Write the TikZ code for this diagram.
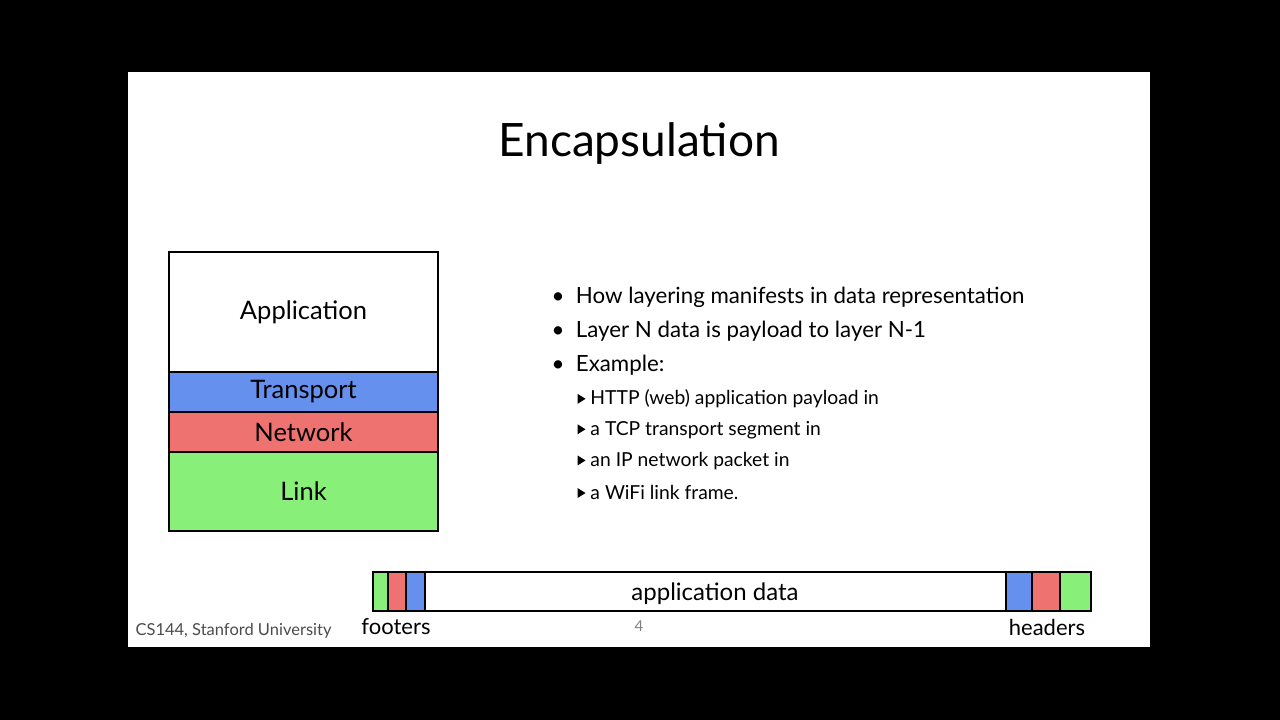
\documentclass[tikz,border=0pt]{standalone}
\usepackage{fontspec}
\setmainfont{Lato}
\definecolor{tb}{HTML}{6690EE}
\definecolor{nr}{HTML}{EE7370}
\definecolor{lg}{HTML}{88F078}
\newcommand{\subtri}{\tikz[x=1pt,y=1pt,baseline=-1pt]\fill (0,0)--(0,10)--(8,5)--cycle;}
\begin{document}
\begin{tikzpicture}[x=1pt,y=-1pt,
 lay/.style={draw=black,line width=1.2pt,minimum width=269pt,inner sep=0pt,font=\fontsize{25.5}{30}\selectfont},
 seg/.style={draw=black,line width=1.4pt},
 bul/.style={anchor=west,font=\fontsize{22.3}{25}\selectfont},
 sub/.style={anchor=west,font=\fontsize{19.3}{22}\selectfont}]
\useasboundingbox (0,0) rectangle (1280,720);
\fill[black] (0,0) rectangle (1280,720);
\fill[white] (128,72) rectangle (1150,647);
\node (title) at (639,144) {\fontsize{46}{54}\selectfont Encapsulation};
\node[lay,minimum height=120pt,fill=white] (app) at (303.5,312) {\raisebox{-2pt}{Application}};
\node[lay,minimum height=40pt,fill=tb] (tr) at (303.5,392) {\raisebox{-2pt}{Transport}};
\node[lay,minimum height=40pt,fill=nr] (nw) at (303.5,432) {Network};
\node[lay,minimum height=79pt,fill=lg] (lk) at (303.5,491.5) {Link};
\node[bul] (b1) at (548,297) {\textbullet\ \ How layering manifests in data representation};
\node[bul] (b2) at (548,331) {\textbullet\ \ Layer N data is payload to layer N-1};
\node[bul] (b3) at (548,365) {\textbullet\ \ Example:};
\node[sub] (s1) at (574,399) {\subtri\ HTTP (web) application payload in};
\node[sub] (s2) at (574,430) {\subtri\ a TCP transport segment in};
\node[sub] (s3) at (574,461) {\subtri\ an IP network packet in};
\node[sub] (s4) at (574,492) {\subtri\ a WiFi link frame.};
\draw[seg,fill=white] (373,572) rectangle (1091,611);
\draw[seg,fill=lg] (373,572) rectangle (388,611);
\draw[seg,fill=nr] (388,572) rectangle (406,611);
\draw[seg,fill=tb] (406,572) rectangle (425,611);
\draw[seg,fill=tb] (1006,572) rectangle (1032,611);
\draw[seg,fill=nr] (1032,572) rectangle (1060,611);
\draw[seg,fill=lg] (1060,572) rectangle (1091,611);
\node[font=\fontsize{24}{28}\selectfont] (ad) at (715,594) {application data};
\node[font=\fontsize{22}{25}\selectfont] (ft) at (396,627) {footers};
\node[font=\fontsize{22}{25}\selectfont] (hd) at (1047,627) {headers};
\node[font=\fontsize{15}{18}\selectfont,text=gray] (pg) at (639,626) {4};
\node[font=\fontsize{16.5}{19}\selectfont,text=black!70,anchor=west] (cs) at (132,631) {CS144, Stanford University};
\end{tikzpicture}
\end{document}
